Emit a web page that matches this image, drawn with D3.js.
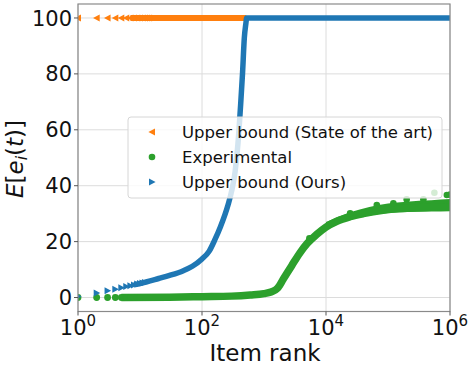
<!DOCTYPE html>
<html><head><meta charset="utf-8">
<script src="https://cdn.jsdelivr.net/npm/d3@7"></script>
<style>body{margin:0;background:#fff;} svg{display:block;font-family:"DejaVu Sans",sans-serif;}</style>
</head><body>
<svg id="c" width="474" height="368"></svg>
<script>
// ---- data ----
const xTickExps = [0, 2, 4, 6];
const yTicks = [0, 20, 40, 60, 80, 100];
const seriesNames = ["Upper bound (State of the art)", "Experimental", "Upper bound (Ours)"];

// Upper bound (State of the art): individual markers at low ranks, dense run afterwards
const orangeMarkRanks = [1, 2, 3, 4, 5, 6, 7, 8, 9, 10, 11, 12, 13, 14];
const orangeMarkVals  = [100, 100, 100, 100, 100, 100, 100, 100, 100, 100, 100, 100, 100, 100];
const orangeRunRanks  = [7, 100, 520];
const orangeRunVals   = [100, 100, 100];

// Experimental
const greenMarkRanks = [1, 2, 3, 4, 5, 6, 7, 8, 9, 10];
const greenMarkVals  = [0, 0, 0, 0, 0, 0, 0, 0, 0, 0];
const greenRunRanks  = [5, 30, 100, 300, 600, 1000, 1300, 1650, 2050, 2800, 3800, 5000, 7000, 10000, 15000, 24500, 40000, 83000, 150000, 290000, 500000, 1000000];
const greenRunVals   = [0, 0.1, 0.3, 0.5, 0.9, 1.4, 2.0, 3.3, 6.6, 11.4, 16.0, 19.4, 22.5, 25.2, 27.3, 28.9, 30.0, 31.2, 31.8, 32.1, 32.3, 32.4];
const greenNoiseRanks = [10000, 24500, 50000, 100000, 200000, 500000, 1000000];
const greenNoiseLow   = [24.5, 28.0, 29.3, 30.2, 30.6, 30.8, 30.9];
const greenNoiseHigh  = [27.0, 30.5, 32.4, 33.6, 34.3, 34.8, 35.2];
const greenOutRanks = [5400, 24500, 66000, 122000, 200000, 372000, 890000, 560000, 1000000];
const greenOutVals  = [21.2, 30.1, 33.1, 33.7, 35.1, 35.1, 36.7, 37.5, 36.8];

// Upper bound (Ours)
const blueMarkRanks = [1, 2, 3, 4, 5, 6, 7, 8, 9, 10, 11, 12];
const blueMarkVals  = [0.4, 1.6, 2.4, 3.0, 3.5, 3.9, 4.2, 4.5, 4.8, 5.0, 5.2, 5.4];
const blueRunRanks  = [8, 10, 20, 30, 50, 70, 100, 130, 160, 200, 262, 300, 342, 380, 420, 450, 482, 510, 525, 1000000];
const blueRunVals   = [4.5, 5.0, 6.8, 7.9, 9.6, 11.2, 13.8, 16.5, 20.5, 25.5, 33, 38, 45, 55, 69, 80, 93, 98, 100, 100];

// ---- chart ----
const C = {orange: "#ff7f0e", green: "#2ca02c", blue: "#1f77b4"};
const L = 78, R = 450, T = 4, B = 311.5;
const svg = d3.select("#c");
const x = d3.scaleLog().domain([1, 1e6]).range([L, R]);
const y = d3.scaleLinear().domain([-5, 105]).range([B, T]);

svg.append("defs").append("clipPath").attr("id", "clip")
  .append("rect").attr("x", L).attr("y", T).attr("width", R - L).attr("height", B - T);

// grid
const grid = svg.append("g");
xTickExps.forEach(e => grid.append("line").attr("x1", x(10 ** e)).attr("x2", x(10 ** e))
  .attr("y1", T).attr("y2", B).attr("stroke", "#dcdcdc").attr("stroke-width", 1));
yTicks.forEach(v => grid.append("line").attr("x1", L).attr("x2", R)
  .attr("y1", y(v)).attr("y2", y(v)).attr("stroke", "#dcdcdc").attr("stroke-width", 1));

const plot = svg.append("g").attr("clip-path", "url(#clip)");
const line = d3.line().x(d => x(d[0])).y(d => y(d[1]));
const smooth = d3.line().x(d => x(d[0])).y(d => y(d[1])).curve(d3.curveMonotoneX);
const zip = (a, b) => a.map((v, i) => [v, b[i]]);
const triLeft = "M-3.6,0L3,-3.5L3,3.5Z";
const triRight = "M3.6,0L-3,-3.5L-3,3.5Z";

// orange
plot.append("path").attr("d", line(zip(orangeRunRanks, orangeRunVals)))
  .attr("fill", "none").attr("stroke", C.orange).attr("stroke-width", 6);
plot.selectAll(".om").data(zip(orangeMarkRanks, orangeMarkVals)).join("path")
  .attr("d", triLeft).attr("transform", d => `translate(${x(d[0])},${y(d[1])})`).attr("fill", C.orange);

// green
const area = d3.area().x(d => x(d[0])).y0(d => y(d[1])).y1(d => y(d[2])).curve(d3.curveMonotoneX);
plot.append("path").attr("d", area(greenNoiseRanks.map((r, i) => [r, greenNoiseLow[i], greenNoiseHigh[i]])))
  .attr("fill", C.green);
plot.append("path").attr("d", smooth(zip(greenRunRanks, greenRunVals)))
  .attr("fill", "none").attr("stroke", C.green).attr("stroke-width", 7.5).attr("stroke-linejoin", "round");
plot.selectAll(".gm").data(zip(greenMarkRanks, greenMarkVals)).join("circle")
  .attr("cx", d => x(d[0])).attr("cy", d => y(d[1])).attr("r", 3.4).attr("fill", C.green);
plot.selectAll(".go").data(zip(greenOutRanks, greenOutVals)).join("circle")
  .attr("cx", d => x(d[0])).attr("cy", d => y(d[1])).attr("r", 3.3).attr("fill", C.green);

// blue
plot.append("path").attr("d", smooth(zip(blueRunRanks, blueRunVals)))
  .attr("fill", "none").attr("stroke", C.blue).attr("stroke-width", 5.5).attr("stroke-linejoin", "round");
plot.selectAll(".bm").data(zip(blueMarkRanks, blueMarkVals)).join("path")
  .attr("d", triRight).attr("transform", d => `translate(${x(d[0])},${y(d[1])})`).attr("fill", C.blue);

// spines
svg.append("rect").attr("x", L).attr("y", T).attr("width", R - L).attr("height", B - T)
  .attr("fill", "none").attr("stroke", "#8a8a8a").attr("stroke-width", 1.2);

// y axis ticks
const yAx = svg.append("g");
yTicks.forEach(v => {
  yAx.append("line").attr("x1", L - 4).attr("x2", L).attr("y1", y(v)).attr("y2", y(v)).attr("stroke", "#555");
  yAx.append("text").attr("x", L - 6).attr("y", y(v)).attr("dy", "0.36em").attr("text-anchor", "end")
    .attr("font-size", 21).attr("fill", "#111").text(v);
});
// x axis ticks
const xAx = svg.append("g");
xTickExps.forEach(e => {
  const px = x(10 ** e);
  xAx.append("line").attr("x1", px).attr("x2", px).attr("y1", B).attr("y2", B + 4).attr("stroke", "#555");
  const t = xAx.append("text").attr("x", px).attr("y", B + 23).attr("text-anchor", "middle")
    .attr("font-size", 21).attr("fill", "#111");
  t.append("tspan").text("10");
  t.append("tspan").attr("dy", -9).attr("font-size", 15).text(e);
});

// axis labels
svg.append("text").attr("x", (L + R) / 2 + 1).attr("y", 361).attr("text-anchor", "middle")
  .attr("font-size", 23).attr("fill", "#111").text("Item rank");
const yl = svg.append("text").attr("transform", "translate(23,159) rotate(-90)")
  .attr("text-anchor", "middle").attr("font-size", 23).attr("fill", "#111");
yl.append("tspan").attr("font-style", "italic").text("E");
yl.append("tspan").text("[");
yl.append("tspan").attr("font-style", "italic").text("e");
yl.append("tspan").attr("font-style", "italic").attr("font-size", 16).attr("dy", 4).text("i");
yl.append("tspan").attr("dy", -4).text("(");
yl.append("tspan").attr("font-style", "italic").text("t");
yl.append("tspan").text(")]");

// legend
const lg = svg.append("g");
lg.append("rect").attr("x", 128).attr("y", 117).attr("width", 314).attr("height", 81).attr("rx", 3)
  .attr("fill", "#fff").attr("fill-opacity", 0.8).attr("stroke", "#d6d6d6").attr("stroke-width", 1);
const rowsY = [132, 157, 182];
const cols = [C.orange, C.green, C.blue];
seriesNames.forEach((name, i) => {
  if (i === 1) lg.append("circle").attr("cx", 152).attr("cy", rowsY[i]).attr("r", 3.3).attr("fill", cols[i]);
  else lg.append("path").attr("d", i === 0 ? triLeft : triRight)
    .attr("transform", `translate(152,${rowsY[i]})`).attr("fill", cols[i]);
  lg.append("text").attr("x", 182).attr("y", rowsY[i]).attr("dy", "0.36em").attr("font-size", 16.5)
    .attr("fill", "#111").text(name);
});
</script>
</body></html>
